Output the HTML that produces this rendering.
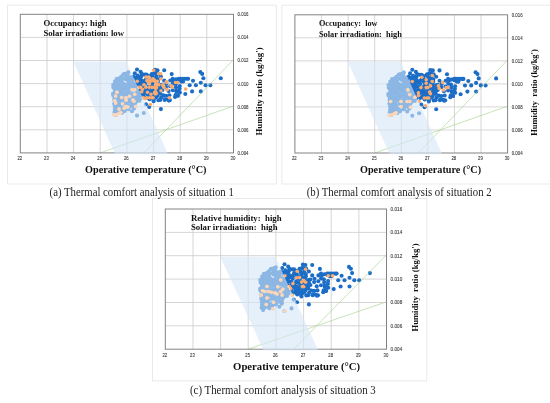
<!DOCTYPE html>
<html><head><meta charset="utf-8"><title>Thermal comfort analysis</title>
<style>html,body{margin:0;padding:0;background:#fff}svg{display:block}</style></head>
<body>
<svg width="550" height="403" viewBox="0 0 550 403">
<rect width="550" height="403" fill="#fff"/>
<rect x="7.5" y="5.2" width="268.9" height="178.8" fill="#fff" stroke="#e5e5e5" stroke-width="0.8"/>
<clipPath id="cpa"><polygon points="73.3,61.4 126.4,61.4 167.8,154.1 115.2,154.1"/></clipPath>
<path d="M47 14.3V152.9M73.6 14.3V152.9M100.2 14.3V152.9M126.9 14.3V152.9M153.6 14.3V152.9M180.2 14.3V152.9M206.8 14.3V152.9M20.3 129.8H233.5M20.3 106.7H233.5M20.3 83.6H233.5M20.3 60.5H233.5M20.3 37.4H233.5" stroke="#c8c8c8" stroke-width="0.75" fill="none"/>
<g fill="#1b6dc6">
<circle cx="134.8" cy="95.3" r="2.05"/>
<circle cx="135.4" cy="92.9" r="2.05"/>
<circle cx="121.5" cy="93.1" r="2.05"/>
<circle cx="151.7" cy="74.1" r="2.05"/>
<circle cx="116.8" cy="106.6" r="2.05"/>
<circle cx="144.8" cy="97.8" r="2.05"/>
<circle cx="113" cy="93.8" r="2.05"/>
<circle cx="121.8" cy="80.8" r="2.05"/>
<circle cx="135.4" cy="89.8" r="2.05"/>
<circle cx="138.1" cy="98.9" r="2.05"/>
<circle cx="145.2" cy="90.6" r="2.05"/>
<circle cx="128" cy="80.2" r="2.05"/>
<circle cx="115.8" cy="104.7" r="2.05"/>
<circle cx="154.4" cy="87.4" r="2.05"/>
<circle cx="122.7" cy="111.2" r="2.05"/>
<circle cx="161" cy="87.9" r="2.05"/>
<circle cx="125.7" cy="73.8" r="2.05"/>
<circle cx="118.2" cy="81" r="2.05"/>
<circle cx="115.3" cy="106.1" r="2.05"/>
<circle cx="140.1" cy="90.2" r="2.05"/>
<circle cx="148.7" cy="75.8" r="2.05"/>
<circle cx="118.1" cy="88.9" r="2.05"/>
<circle cx="152.2" cy="83.6" r="2.05"/>
<circle cx="122.8" cy="87.7" r="2.05"/>
<circle cx="128.6" cy="83.3" r="2.05"/>
<circle cx="116.8" cy="96.3" r="2.05"/>
<circle cx="142.2" cy="86.7" r="2.05"/>
<circle cx="160" cy="91.8" r="2.05"/>
<circle cx="155.4" cy="78.1" r="2.05"/>
<circle cx="124.7" cy="78.4" r="2.05"/>
<circle cx="156.1" cy="97.3" r="2.05"/>
<circle cx="125.1" cy="107.3" r="2.05"/>
<circle cx="126.9" cy="77.8" r="2.05"/>
<circle cx="154.7" cy="97.8" r="2.05"/>
<circle cx="157.9" cy="79.1" r="2.05"/>
<circle cx="125.7" cy="90.1" r="2.05"/>
<circle cx="121.1" cy="86.6" r="2.05"/>
<circle cx="118.8" cy="86.3" r="2.05"/>
<circle cx="141.3" cy="76.2" r="2.05"/>
<circle cx="143.9" cy="91.7" r="2.05"/>
<circle cx="116" cy="94.6" r="2.05"/>
<circle cx="157.8" cy="85.8" r="2.05"/>
<circle cx="140.8" cy="98.2" r="2.05"/>
<circle cx="131.6" cy="103.2" r="2.05"/>
<circle cx="134.2" cy="107.9" r="2.05"/>
<circle cx="142.2" cy="91.7" r="2.05"/>
<circle cx="147" cy="92.4" r="2.05"/>
<circle cx="158" cy="81.4" r="2.05"/>
<circle cx="127.3" cy="100.7" r="2.05"/>
<circle cx="120.7" cy="111" r="2.05"/>
<circle cx="156" cy="87.3" r="2.05"/>
<circle cx="128" cy="76" r="2.05"/>
<circle cx="126" cy="79.5" r="2.05"/>
<circle cx="134.8" cy="73.2" r="2.05"/>
<circle cx="147.5" cy="95.8" r="2.05"/>
<circle cx="119.1" cy="90.5" r="2.05"/>
<circle cx="153.5" cy="80.6" r="2.05"/>
<circle cx="114.6" cy="98.4" r="2.05"/>
<circle cx="122.2" cy="91.4" r="2.05"/>
<circle cx="121.2" cy="82.2" r="2.05"/>
<circle cx="149.9" cy="87.7" r="2.05"/>
<circle cx="131" cy="95.7" r="2.05"/>
<circle cx="135.3" cy="99.4" r="2.05"/>
<circle cx="128.9" cy="105.6" r="2.05"/>
<circle cx="119.7" cy="93.3" r="2.05"/>
<circle cx="126.7" cy="103" r="2.05"/>
<circle cx="140.1" cy="84" r="2.05"/>
<circle cx="122.6" cy="108.5" r="2.05"/>
<circle cx="138.4" cy="95.9" r="2.05"/>
<circle cx="138.9" cy="92.7" r="2.05"/>
<circle cx="132.2" cy="106.2" r="2.05"/>
<circle cx="136.7" cy="101.2" r="2.05"/>
<circle cx="139.1" cy="88.6" r="2.05"/>
<circle cx="157.1" cy="91.5" r="2.05"/>
<circle cx="121.8" cy="97.9" r="2.05"/>
<circle cx="118.7" cy="105.3" r="2.05"/>
<circle cx="128.3" cy="86" r="2.05"/>
<circle cx="117.5" cy="103.1" r="2.05"/>
<circle cx="137.7" cy="81.2" r="2.05"/>
<circle cx="132.8" cy="93.9" r="2.05"/>
<circle cx="123.9" cy="103.5" r="2.05"/>
<circle cx="157.2" cy="84.2" r="2.05"/>
<circle cx="156.4" cy="75.9" r="2.05"/>
<circle cx="148.4" cy="81.6" r="2.05"/>
<circle cx="153.7" cy="89" r="2.05"/>
<circle cx="146.4" cy="78.4" r="2.05"/>
<circle cx="119.6" cy="78.2" r="2.05"/>
<circle cx="158.4" cy="74.1" r="2.05"/>
<circle cx="128.5" cy="91" r="2.05"/>
<circle cx="133.7" cy="97.1" r="2.05"/>
<circle cx="132.4" cy="78.7" r="2.05"/>
<circle cx="152.3" cy="81.6" r="2.05"/>
<circle cx="130" cy="98.9" r="2.05"/>
<circle cx="125.1" cy="88.1" r="2.05"/>
<circle cx="124.8" cy="111" r="2.05"/>
<circle cx="114.5" cy="112.1" r="2.05"/>
<circle cx="135.7" cy="77.5" r="2.05"/>
<circle cx="130.5" cy="82.8" r="2.05"/>
<circle cx="120.1" cy="104.1" r="2.05"/>
<circle cx="116" cy="111" r="2.05"/>
<circle cx="124.4" cy="93.6" r="2.05"/>
<circle cx="148.2" cy="91.1" r="2.05"/>
<circle cx="152.9" cy="97.3" r="2.05"/>
<circle cx="125.3" cy="96.3" r="2.05"/>
<circle cx="151" cy="93.9" r="2.05"/>
<circle cx="151.3" cy="98.2" r="2.05"/>
<circle cx="125.8" cy="101" r="2.05"/>
<circle cx="117.4" cy="94.4" r="2.05"/>
<circle cx="116.6" cy="100.6" r="2.05"/>
<circle cx="143.7" cy="86.8" r="2.05"/>
<circle cx="122.8" cy="85.4" r="2.05"/>
<circle cx="154" cy="73.2" r="2.05"/>
<circle cx="122.9" cy="89.1" r="2.05"/>
<circle cx="152.6" cy="86.6" r="2.05"/>
<circle cx="133.6" cy="86.6" r="2.05"/>
<circle cx="155.8" cy="73.4" r="2.05"/>
<circle cx="140.3" cy="91.9" r="2.05"/>
<circle cx="127.2" cy="105.1" r="2.05"/>
<circle cx="122.9" cy="99.9" r="2.05"/>
<circle cx="126.4" cy="76.3" r="2.05"/>
<circle cx="148.4" cy="86.5" r="2.05"/>
<circle cx="134.1" cy="106.3" r="2.05"/>
<circle cx="128.1" cy="88" r="2.05"/>
<circle cx="130.5" cy="86.3" r="2.05"/>
<circle cx="140.3" cy="77.8" r="2.05"/>
<circle cx="156.1" cy="82.6" r="2.05"/>
<circle cx="137.9" cy="94.6" r="2.05"/>
<circle cx="116.5" cy="98.7" r="2.05"/>
<circle cx="149.4" cy="99.3" r="2.05"/>
<circle cx="157.8" cy="88.5" r="2.05"/>
<circle cx="144.1" cy="93.6" r="2.05"/>
<circle cx="152.2" cy="89" r="2.05"/>
<circle cx="131" cy="77.4" r="2.05"/>
<circle cx="133.4" cy="83.1" r="2.05"/>
<circle cx="115.2" cy="83.8" r="2.05"/>
<circle cx="149.9" cy="84" r="2.05"/>
<circle cx="152.9" cy="91.6" r="2.05"/>
<circle cx="129.3" cy="94.7" r="2.05"/>
<circle cx="136.3" cy="79.9" r="2.05"/>
<circle cx="145" cy="80.6" r="2.05"/>
<circle cx="135.8" cy="86.7" r="2.05"/>
<circle cx="147.8" cy="97.4" r="2.05"/>
<circle cx="120.1" cy="84.4" r="2.05"/>
<circle cx="155.5" cy="93.3" r="2.05"/>
<circle cx="122.7" cy="94.5" r="2.05"/>
<circle cx="120.1" cy="107.7" r="2.05"/>
<circle cx="127.7" cy="73.3" r="2.05"/>
<circle cx="135.5" cy="102.3" r="2.05"/>
<circle cx="146.4" cy="74.6" r="2.05"/>
<circle cx="153.5" cy="99.6" r="2.05"/>
<circle cx="121.2" cy="88.1" r="2.05"/>
<circle cx="141.8" cy="73.9" r="2.05"/>
<circle cx="132.2" cy="101.6" r="2.05"/>
<circle cx="113.2" cy="84.9" r="2.05"/>
<circle cx="144.6" cy="74.6" r="2.05"/>
<circle cx="139.5" cy="85.8" r="2.05"/>
<circle cx="119.3" cy="102.3" r="2.05"/>
<circle cx="122.1" cy="112.8" r="2.05"/>
<circle cx="119" cy="110.9" r="2.05"/>
<circle cx="140.2" cy="95.3" r="2.05"/>
<circle cx="145" cy="83.8" r="2.05"/>
<circle cx="149.7" cy="91.9" r="2.05"/>
<circle cx="132.6" cy="89.5" r="2.05"/>
<circle cx="157.3" cy="93.7" r="2.05"/>
<circle cx="127.4" cy="96.8" r="2.05"/>
<circle cx="149.4" cy="95.6" r="2.05"/>
<circle cx="127.2" cy="84.6" r="2.05"/>
<circle cx="132" cy="86" r="2.05"/>
<circle cx="121.8" cy="109.8" r="2.05"/>
<circle cx="158.9" cy="90.1" r="2.05"/>
<circle cx="123.4" cy="83.8" r="2.05"/>
<circle cx="122.1" cy="78" r="2.05"/>
<circle cx="141.6" cy="80.2" r="2.05"/>
<circle cx="158.4" cy="100.2" r="2.05"/>
<circle cx="126.2" cy="94.7" r="2.05"/>
<circle cx="137.1" cy="78" r="2.05"/>
<circle cx="120.9" cy="105.3" r="2.05"/>
<circle cx="123.3" cy="96.2" r="2.05"/>
<circle cx="121.2" cy="76.7" r="2.05"/>
<circle cx="137" cy="89.6" r="2.05"/>
<circle cx="157.4" cy="95.7" r="2.05"/>
<circle cx="153.1" cy="77.6" r="2.05"/>
<circle cx="120.2" cy="101.2" r="2.05"/>
<circle cx="130.4" cy="79.6" r="2.05"/>
<circle cx="134.9" cy="103.7" r="2.05"/>
<circle cx="131.8" cy="83.4" r="2.05"/>
<circle cx="139.7" cy="80.8" r="2.05"/>
<circle cx="161.1" cy="97.6" r="2.05"/>
<circle cx="132.3" cy="99.4" r="2.05"/>
<circle cx="129.4" cy="101.4" r="2.05"/>
<circle cx="129.6" cy="78.2" r="2.05"/>
<circle cx="135.5" cy="83.8" r="2.05"/>
<circle cx="125.7" cy="86.2" r="2.05"/>
<circle cx="131.9" cy="80.6" r="2.05"/>
<circle cx="119.8" cy="96.9" r="2.05"/>
<circle cx="124" cy="98.6" r="2.05"/>
<circle cx="131.4" cy="84.7" r="2.05"/>
<circle cx="124.2" cy="74" r="2.05"/>
<circle cx="133.3" cy="76.7" r="2.05"/>
<circle cx="113.4" cy="87.6" r="2.05"/>
<circle cx="115.4" cy="88.2" r="2.05"/>
<circle cx="136.9" cy="96.5" r="2.05"/>
<circle cx="135.6" cy="97.8" r="2.05"/>
<circle cx="137.5" cy="83.8" r="2.05"/>
<circle cx="160.9" cy="76.6" r="2.05"/>
<circle cx="160.5" cy="85" r="2.05"/>
<circle cx="149.5" cy="94.1" r="2.05"/>
<circle cx="124.7" cy="84.6" r="2.05"/>
<circle cx="137.8" cy="75.5" r="2.05"/>
<circle cx="115" cy="81.4" r="2.05"/>
<circle cx="124.8" cy="102.4" r="2.05"/>
<circle cx="153.5" cy="95.6" r="2.05"/>
<circle cx="152.1" cy="75.5" r="2.05"/>
<circle cx="146.5" cy="88.9" r="2.05"/>
<circle cx="118.3" cy="84.8" r="2.05"/>
<circle cx="117.6" cy="112.3" r="2.05"/>
<circle cx="113.3" cy="95.5" r="2.05"/>
<circle cx="143.4" cy="82.3" r="2.05"/>
<circle cx="116" cy="86.1" r="2.05"/>
<circle cx="127.7" cy="93.2" r="2.05"/>
<circle cx="149.2" cy="79.4" r="2.05"/>
<circle cx="139.4" cy="100.8" r="2.05"/>
<circle cx="129.7" cy="89.4" r="2.05"/>
<circle cx="137.3" cy="88.2" r="2.05"/>
<circle cx="119.7" cy="98.7" r="2.05"/>
<circle cx="118" cy="107.9" r="2.05"/>
<circle cx="140.8" cy="93.2" r="2.05"/>
<circle cx="143.5" cy="90.1" r="2.05"/>
<circle cx="115.5" cy="109.4" r="2.05"/>
<circle cx="115.9" cy="114.7" r="2.05"/>
<circle cx="141.1" cy="82.8" r="2.05"/>
<circle cx="126.5" cy="108.7" r="2.05"/>
<circle cx="129.3" cy="107.1" r="2.05"/>
<circle cx="141.7" cy="94.6" r="2.05"/>
<circle cx="130.3" cy="91" r="2.05"/>
<circle cx="115.6" cy="90.8" r="2.05"/>
<circle cx="160.5" cy="93.7" r="2.05"/>
<circle cx="147.7" cy="76.9" r="2.05"/>
<circle cx="130.5" cy="97" r="2.05"/>
<circle cx="143.3" cy="94.9" r="2.05"/>
<circle cx="176.3" cy="90.8" r="2.05"/>
<circle cx="176" cy="87.2" r="2.05"/>
<circle cx="163.4" cy="95.4" r="2.05"/>
<circle cx="170.3" cy="80.5" r="2.05"/>
<circle cx="176" cy="79.4" r="2.05"/>
<circle cx="164.2" cy="80.5" r="2.05"/>
<circle cx="166" cy="87.1" r="2.05"/>
<circle cx="170.2" cy="86.3" r="2.05"/>
<circle cx="179.6" cy="88.9" r="2.05"/>
<circle cx="169.4" cy="95.3" r="2.05"/>
<circle cx="168.6" cy="91.1" r="2.05"/>
<circle cx="166.4" cy="83.7" r="2.05"/>
<circle cx="172.9" cy="83.6" r="2.05"/>
<circle cx="172.8" cy="90.2" r="2.05"/>
<circle cx="164.9" cy="99.2" r="2.05"/>
<circle cx="173.6" cy="80.5" r="2.05"/>
<circle cx="175.7" cy="84.3" r="2.05"/>
<circle cx="162.4" cy="89.9" r="2.05"/>
<circle cx="179.8" cy="86" r="2.05"/>
<circle cx="179.9" cy="92.6" r="2.05"/>
<circle cx="179.1" cy="80.1" r="2.05"/>
<circle cx="175" cy="97" r="2.05"/>
<circle cx="169.9" cy="100.1" r="2.05"/>
<circle cx="166.2" cy="95.8" r="2.05"/>
<circle cx="162.3" cy="84.6" r="2.05"/>
<circle cx="177.8" cy="95.8" r="2.05"/>
<circle cx="114.9" cy="85.3" r="2.05"/>
<circle cx="114.4" cy="88.4" r="2.05"/>
<circle cx="114.9" cy="91.3" r="2.05"/>
<circle cx="114.4" cy="94.1" r="2.05"/>
<circle cx="114.8" cy="97.3" r="2.05"/>
<circle cx="114.3" cy="100" r="2.05"/>
<circle cx="114.1" cy="103.7" r="2.05"/>
<circle cx="114.8" cy="106.8" r="2.05"/>
<circle cx="114.9" cy="109.5" r="2.05"/>
<circle cx="114.8" cy="112.6" r="2.05"/>
<circle cx="117.1" cy="82.6" r="2.05"/>
<circle cx="116.2" cy="85.6" r="2.05"/>
<circle cx="116.4" cy="88.1" r="2.05"/>
<circle cx="117.2" cy="90.8" r="2.05"/>
<circle cx="116.7" cy="94.2" r="2.05"/>
<circle cx="117" cy="97.4" r="2.05"/>
<circle cx="117.2" cy="100.8" r="2.05"/>
<circle cx="116.8" cy="102.9" r="2.05"/>
<circle cx="116.9" cy="105.9" r="2.05"/>
<circle cx="117.3" cy="109.7" r="2.05"/>
<circle cx="116.4" cy="112" r="2.05"/>
<circle cx="220.8" cy="78.2" r="2.05"/>
<circle cx="200.3" cy="72.1" r="2.05"/>
<circle cx="202.2" cy="73.9" r="2.05"/>
<circle cx="203.4" cy="78.2" r="2.05"/>
<circle cx="200.8" cy="82.7" r="2.05"/>
<circle cx="205.5" cy="85.2" r="2.05"/>
<circle cx="210.3" cy="85.3" r="2.05"/>
<circle cx="200.8" cy="91.4" r="2.05"/>
<circle cx="195.9" cy="85.2" r="2.05"/>
<circle cx="193" cy="80.8" r="2.05"/>
<circle cx="192.1" cy="91.4" r="2.05"/>
<circle cx="189.7" cy="85.3" r="2.05"/>
<circle cx="185.3" cy="94" r="2.05"/>
<circle cx="181.5" cy="81.4" r="2.05"/>
<circle cx="183.1" cy="81.4" r="2.05"/>
<circle cx="178.8" cy="78.7" r="2.05"/>
<circle cx="180.6" cy="78.7" r="2.05"/>
<circle cx="182.6" cy="78.7" r="2.05"/>
<circle cx="184.8" cy="78.7" r="2.05"/>
<circle cx="187" cy="78.7" r="2.05"/>
<circle cx="188.1" cy="78.7" r="2.05"/>
<circle cx="171.7" cy="74.1" r="2.05"/>
<circle cx="164.2" cy="70.2" r="2.05"/>
<circle cx="157.5" cy="70.2" r="2.05"/>
<circle cx="172.8" cy="78.7" r="2.05"/>
<circle cx="160.9" cy="109.1" r="2.05"/>
<circle cx="167.8" cy="99.6" r="2.05"/>
<circle cx="164.6" cy="100" r="2.05"/>
<circle cx="160.2" cy="100" r="2.05"/>
<circle cx="168.9" cy="100.6" r="2.05"/>
<circle cx="176.6" cy="91.8" r="2.05"/>
<circle cx="178.2" cy="91.8" r="2.05"/>
<circle cx="175.5" cy="95.1" r="2.05"/>
<circle cx="177.7" cy="95.6" r="2.05"/>
<circle cx="137" cy="115.6" r="2.05"/>
<circle cx="143.8" cy="113" r="2.05"/>
<circle cx="134.1" cy="108.4" r="2.05"/>
<circle cx="131.9" cy="111.3" r="2.05"/>
<circle cx="128.6" cy="109.1" r="2.05"/>
<circle cx="137" cy="69.5" r="2.05"/>
<circle cx="140.6" cy="71.7" r="2.05"/>
<circle cx="155" cy="69.8" r="2.05"/>
<circle cx="116.8" cy="78.9" r="2.05"/>
<circle cx="120.4" cy="78.2" r="2.05"/>
<circle cx="123.3" cy="74.5" r="2.05"/>
<circle cx="128.3" cy="72.4" r="2.05"/>
<circle cx="149.2" cy="107" r="2.05"/>
<circle cx="146" cy="104.3" r="2.05"/>
<circle cx="153.6" cy="101.2" r="2.05"/>
</g>
<g fill="#f9ab72"><circle cx="137.3" cy="81.3" r="1.8"/><circle cx="139" cy="87.4" r="1.8"/><circle cx="140.8" cy="87.4" r="1.8"/><circle cx="141.7" cy="91.8" r="1.8"/><circle cx="142.5" cy="89.3" r="1.8"/><circle cx="143.4" cy="97.8" r="1.8"/><circle cx="145.1" cy="98.7" r="1.8"/><circle cx="146" cy="77" r="1.8"/><circle cx="148.6" cy="77" r="1.8"/><circle cx="146.9" cy="80.5" r="1.8"/><circle cx="150.3" cy="81.3" r="1.8"/><circle cx="149.5" cy="84" r="1.8"/><circle cx="152" cy="87.4" r="1.8"/><circle cx="154.7" cy="87.4" r="1.8"/><circle cx="156.4" cy="87.4" r="1.8"/><circle cx="155.6" cy="91.8" r="1.8"/><circle cx="156.4" cy="93.5" r="1.8"/><circle cx="152" cy="97.8" r="1.8"/><circle cx="149.5" cy="97.8" r="1.8"/><circle cx="150.3" cy="104.5" r="1.8"/><circle cx="153.6" cy="70.2" r="1.8"/><circle cx="158.6" cy="73.8" r="1.8"/><circle cx="160.7" cy="73.8" r="1.8"/><circle cx="155.6" cy="81.3" r="1.8"/><circle cx="157.3" cy="81.3" r="1.8"/><circle cx="160.8" cy="78.7" r="1.8"/><circle cx="166.8" cy="82.5" r="1.8"/><circle cx="166.8" cy="89.6" r="1.8"/><circle cx="169.5" cy="97.8" r="1.8"/><circle cx="171.1" cy="85.8" r="1.8"/><circle cx="172.2" cy="87.2" r="1.8"/><circle cx="175.5" cy="82.5" r="1.8"/><circle cx="177.7" cy="82.5" r="1.8"/><circle cx="185.7" cy="89.1" r="1.8"/><circle cx="162.9" cy="85.3" r="1.8"/><circle cx="163.5" cy="86.9" r="1.8"/><circle cx="154.2" cy="80.9" r="1.8"/><circle cx="155.8" cy="82" r="1.8"/><circle cx="156.4" cy="84.2" r="1.8"/><circle cx="155.3" cy="86.3" r="1.8"/><circle cx="155.8" cy="88.5" r="1.8"/><circle cx="154.7" cy="92.3" r="1.8"/><circle cx="155.3" cy="94" r="1.8"/><circle cx="153.1" cy="97.8" r="1.8"/><circle cx="147.5" cy="92.3" r="1.8"/><circle cx="144" cy="84.8" r="1.8"/><circle cx="151" cy="94.3" r="1.8"/><circle cx="159" cy="84.8" r="1.8"/><circle cx="161" cy="90.8" r="1.8"/><circle cx="153" cy="78.8" r="1.8"/><circle cx="149.2" cy="78.3" r="1.8"/><circle cx="148.4" cy="81.6" r="1.8"/><circle cx="151.6" cy="80.8" r="1.8"/><circle cx="145.9" cy="87.3" r="1.8"/><circle cx="149.2" cy="87.3" r="1.8"/><circle cx="154.1" cy="79.9" r="1.8"/><circle cx="157.4" cy="84.8" r="1.8"/><circle cx="154.9" cy="93" r="1.8"/><circle cx="146.7" cy="97.9" r="1.8"/><circle cx="163.1" cy="84.8" r="1.8"/><circle cx="163.9" cy="87.3" r="1.8"/><circle cx="167.2" cy="89.8" r="1.8"/><circle cx="166.4" cy="81.6" r="1.8"/><circle cx="171.3" cy="85.7" r="1.8"/><circle cx="115.6" cy="96.1" r="1.8"/><circle cx="114.8" cy="100.8" r="1.8"/><circle cx="115.6" cy="103.1" r="1.8"/><circle cx="121.7" cy="97.5" r="1.8"/><circle cx="126" cy="97.8" r="1.8"/><circle cx="126" cy="100.3" r="1.8"/><circle cx="133" cy="100.1" r="1.8"/><circle cx="133.9" cy="101.3" r="1.8"/><circle cx="132.1" cy="89.7" r="1.8"/><circle cx="134.7" cy="89.7" r="1.8"/><circle cx="134.7" cy="94.3" r="1.8"/><circle cx="126" cy="106.5" r="1.8"/><circle cx="127.8" cy="107" r="1.8"/><circle cx="124.3" cy="108.3" r="1.8"/><circle cx="119" cy="109.1" r="1.8"/><circle cx="135.6" cy="106.5" r="1.8"/><circle cx="113.9" cy="114.8" r="1.8"/><circle cx="116.5" cy="114.8" r="1.8"/><circle cx="119" cy="113.5" r="1.8"/><circle cx="120.8" cy="112.6" r="1.8"/><circle cx="117" cy="92.3" r="1.8"/><circle cx="122.5" cy="103.8" r="1.8"/><circle cx="129.5" cy="96.3" r="1.8"/></g>
<path d="M100.2 152.9L233.5 106M144 152.9L233.5 59.6" stroke="#a9d491" stroke-width="0.65" fill="none"/>
<rect x="20.3" y="14.3" width="213.2" height="138.6" fill="none" stroke="#838383" stroke-width="1"/>
<polygon points="73.3,61.4 126.4,61.4 167.8,154.1 115.2,154.1" fill="#d4e6f7" fill-opacity="0.61"/>
<g fill="#fbd6b9" clip-path="url(#cpa)"><circle cx="137.3" cy="81.3" r="1.8"/><circle cx="139" cy="87.4" r="1.8"/><circle cx="140.8" cy="87.4" r="1.8"/><circle cx="141.7" cy="91.8" r="1.8"/><circle cx="142.5" cy="89.3" r="1.8"/><circle cx="143.4" cy="97.8" r="1.8"/><circle cx="145.1" cy="98.7" r="1.8"/><circle cx="146" cy="77" r="1.8"/><circle cx="148.6" cy="77" r="1.8"/><circle cx="146.9" cy="80.5" r="1.8"/><circle cx="150.3" cy="81.3" r="1.8"/><circle cx="149.5" cy="84" r="1.8"/><circle cx="149.5" cy="97.8" r="1.8"/><circle cx="150.3" cy="104.5" r="1.8"/><circle cx="147.5" cy="92.3" r="1.8"/><circle cx="144" cy="84.8" r="1.8"/><circle cx="151" cy="94.3" r="1.8"/><circle cx="149.2" cy="78.3" r="1.8"/><circle cx="148.4" cy="81.6" r="1.8"/><circle cx="151.6" cy="80.8" r="1.8"/><circle cx="145.9" cy="87.3" r="1.8"/><circle cx="149.2" cy="87.3" r="1.8"/><circle cx="146.7" cy="97.9" r="1.8"/><circle cx="115.6" cy="96.1" r="1.8"/><circle cx="114.8" cy="100.8" r="1.8"/><circle cx="115.6" cy="103.1" r="1.8"/><circle cx="121.7" cy="97.5" r="1.8"/><circle cx="126" cy="97.8" r="1.8"/><circle cx="126" cy="100.3" r="1.8"/><circle cx="133" cy="100.1" r="1.8"/><circle cx="133.9" cy="101.3" r="1.8"/><circle cx="132.1" cy="89.7" r="1.8"/><circle cx="134.7" cy="89.7" r="1.8"/><circle cx="134.7" cy="94.3" r="1.8"/><circle cx="126" cy="106.5" r="1.8"/><circle cx="127.8" cy="107" r="1.8"/><circle cx="124.3" cy="108.3" r="1.8"/><circle cx="119" cy="109.1" r="1.8"/><circle cx="135.6" cy="106.5" r="1.8"/><circle cx="113.9" cy="114.8" r="1.8"/><circle cx="116.5" cy="114.8" r="1.8"/><circle cx="119" cy="113.5" r="1.8"/><circle cx="120.8" cy="112.6" r="1.8"/><circle cx="117" cy="92.3" r="1.8"/><circle cx="122.5" cy="103.8" r="1.8"/><circle cx="129.5" cy="96.3" r="1.8"/></g>
<g font-family="Liberation Sans, Arial, sans-serif" font-size="5.2" fill="#3a3a3a" stroke="#3a3a3a" stroke-width="0.1">
<text transform="translate(17.4 160.2) scale(0.82 1)">22</text>
<text transform="translate(44.1 160.2) scale(0.82 1)">23</text>
<text transform="translate(70.7 160.2) scale(0.82 1)">24</text>
<text transform="translate(97.3 160.2) scale(0.82 1)">25</text>
<text transform="translate(124 160.2) scale(0.82 1)">26</text>
<text transform="translate(150.7 160.2) scale(0.82 1)">27</text>
<text transform="translate(177.3 160.2) scale(0.82 1)">28</text>
<text transform="translate(203.9 160.2) scale(0.82 1)">29</text>
<text transform="translate(230.6 160.2) scale(0.82 1)">30</text>
<text transform="translate(237.6 154.8) scale(0.845 1)">0.004</text>
<text transform="translate(237.6 131.7) scale(0.845 1)">0.006</text>
<text transform="translate(237.6 108.6) scale(0.845 1)">0.008</text>
<text transform="translate(237.6 85.5) scale(0.845 1)">0.010</text>
<text transform="translate(237.6 62.4) scale(0.845 1)">0.012</text>
<text transform="translate(237.6 39.3) scale(0.845 1)">0.014</text>
<text transform="translate(237.6 16.2) scale(0.845 1)">0.016</text>
</g>
<rect x="281.9" y="5.2" width="269.1" height="178.8" fill="#fff" stroke="#e5e5e5" stroke-width="0.8"/>
<clipPath id="cpb"><polygon points="347.8,61.8 400.7,61.8 442.1,154.2 389.6,154.2"/></clipPath>
<path d="M321.5 14.8V153M348.1 14.8V153M374.7 14.8V153M401.2 14.8V153M427.8 14.8V153M454.4 14.8V153M481 14.8V153M294.9 130H507.6M294.9 106.9H507.6M294.9 83.9H507.6M294.9 60.9H507.6M294.9 37.8H507.6" stroke="#c8c8c8" stroke-width="0.75" fill="none"/>
<g fill="#1b6dc6">
<circle cx="410.1" cy="95.5" r="2.05"/>
<circle cx="410.7" cy="93.1" r="2.05"/>
<circle cx="396.8" cy="93.3" r="2.05"/>
<circle cx="427" cy="74.3" r="2.05"/>
<circle cx="392.1" cy="106.8" r="2.05"/>
<circle cx="420.1" cy="98" r="2.05"/>
<circle cx="388.3" cy="94" r="2.05"/>
<circle cx="397.1" cy="81" r="2.05"/>
<circle cx="410.7" cy="90" r="2.05"/>
<circle cx="413.4" cy="99.1" r="2.05"/>
<circle cx="420.5" cy="90.8" r="2.05"/>
<circle cx="403.3" cy="80.4" r="2.05"/>
<circle cx="391.1" cy="104.9" r="2.05"/>
<circle cx="429.7" cy="87.6" r="2.05"/>
<circle cx="398" cy="111.4" r="2.05"/>
<circle cx="436.3" cy="88.1" r="2.05"/>
<circle cx="401" cy="74" r="2.05"/>
<circle cx="393.5" cy="81.2" r="2.05"/>
<circle cx="390.6" cy="106.3" r="2.05"/>
<circle cx="415.4" cy="90.4" r="2.05"/>
<circle cx="424" cy="76" r="2.05"/>
<circle cx="393.4" cy="89.1" r="2.05"/>
<circle cx="427.5" cy="83.8" r="2.05"/>
<circle cx="398.1" cy="87.9" r="2.05"/>
<circle cx="403.9" cy="83.5" r="2.05"/>
<circle cx="392.1" cy="96.5" r="2.05"/>
<circle cx="417.5" cy="86.9" r="2.05"/>
<circle cx="435.3" cy="92" r="2.05"/>
<circle cx="430.7" cy="78.3" r="2.05"/>
<circle cx="400" cy="78.6" r="2.05"/>
<circle cx="431.4" cy="97.5" r="2.05"/>
<circle cx="400.4" cy="107.5" r="2.05"/>
<circle cx="402.2" cy="78" r="2.05"/>
<circle cx="430" cy="98" r="2.05"/>
<circle cx="433.2" cy="79.3" r="2.05"/>
<circle cx="401" cy="90.3" r="2.05"/>
<circle cx="396.4" cy="86.8" r="2.05"/>
<circle cx="394.1" cy="86.5" r="2.05"/>
<circle cx="416.6" cy="76.4" r="2.05"/>
<circle cx="419.2" cy="91.9" r="2.05"/>
<circle cx="391.3" cy="94.8" r="2.05"/>
<circle cx="433.1" cy="86" r="2.05"/>
<circle cx="416.1" cy="98.4" r="2.05"/>
<circle cx="406.9" cy="103.4" r="2.05"/>
<circle cx="409.5" cy="108.1" r="2.05"/>
<circle cx="417.5" cy="91.9" r="2.05"/>
<circle cx="422.3" cy="92.6" r="2.05"/>
<circle cx="433.3" cy="81.6" r="2.05"/>
<circle cx="402.6" cy="100.9" r="2.05"/>
<circle cx="396" cy="111.2" r="2.05"/>
<circle cx="431.3" cy="87.5" r="2.05"/>
<circle cx="403.3" cy="76.2" r="2.05"/>
<circle cx="401.3" cy="79.7" r="2.05"/>
<circle cx="410.1" cy="73.4" r="2.05"/>
<circle cx="422.8" cy="96" r="2.05"/>
<circle cx="394.4" cy="90.7" r="2.05"/>
<circle cx="428.8" cy="80.8" r="2.05"/>
<circle cx="389.9" cy="98.6" r="2.05"/>
<circle cx="397.5" cy="91.6" r="2.05"/>
<circle cx="396.5" cy="82.4" r="2.05"/>
<circle cx="425.2" cy="87.9" r="2.05"/>
<circle cx="406.3" cy="95.9" r="2.05"/>
<circle cx="410.6" cy="99.6" r="2.05"/>
<circle cx="404.2" cy="105.8" r="2.05"/>
<circle cx="395" cy="93.5" r="2.05"/>
<circle cx="402" cy="103.2" r="2.05"/>
<circle cx="415.4" cy="84.2" r="2.05"/>
<circle cx="397.9" cy="108.7" r="2.05"/>
<circle cx="413.7" cy="96.1" r="2.05"/>
<circle cx="414.2" cy="92.9" r="2.05"/>
<circle cx="407.5" cy="106.4" r="2.05"/>
<circle cx="412" cy="101.4" r="2.05"/>
<circle cx="414.4" cy="88.8" r="2.05"/>
<circle cx="432.4" cy="91.7" r="2.05"/>
<circle cx="397.1" cy="98.1" r="2.05"/>
<circle cx="394" cy="105.5" r="2.05"/>
<circle cx="403.6" cy="86.2" r="2.05"/>
<circle cx="392.8" cy="103.3" r="2.05"/>
<circle cx="413" cy="81.4" r="2.05"/>
<circle cx="408.1" cy="94.1" r="2.05"/>
<circle cx="399.2" cy="103.7" r="2.05"/>
<circle cx="432.5" cy="84.4" r="2.05"/>
<circle cx="431.7" cy="76.1" r="2.05"/>
<circle cx="423.7" cy="81.8" r="2.05"/>
<circle cx="429" cy="89.2" r="2.05"/>
<circle cx="421.7" cy="78.6" r="2.05"/>
<circle cx="394.9" cy="78.4" r="2.05"/>
<circle cx="433.7" cy="74.3" r="2.05"/>
<circle cx="403.8" cy="91.2" r="2.05"/>
<circle cx="409" cy="97.3" r="2.05"/>
<circle cx="407.7" cy="78.9" r="2.05"/>
<circle cx="427.6" cy="81.8" r="2.05"/>
<circle cx="405.3" cy="99.1" r="2.05"/>
<circle cx="400.4" cy="88.3" r="2.05"/>
<circle cx="400.1" cy="111.2" r="2.05"/>
<circle cx="389.8" cy="112.3" r="2.05"/>
<circle cx="411" cy="77.7" r="2.05"/>
<circle cx="405.8" cy="83" r="2.05"/>
<circle cx="395.4" cy="104.3" r="2.05"/>
<circle cx="391.3" cy="111.2" r="2.05"/>
<circle cx="399.7" cy="93.8" r="2.05"/>
<circle cx="423.5" cy="91.3" r="2.05"/>
<circle cx="428.2" cy="97.5" r="2.05"/>
<circle cx="400.6" cy="96.5" r="2.05"/>
<circle cx="426.3" cy="94.1" r="2.05"/>
<circle cx="426.6" cy="98.4" r="2.05"/>
<circle cx="401.1" cy="101.2" r="2.05"/>
<circle cx="392.7" cy="94.6" r="2.05"/>
<circle cx="391.9" cy="100.8" r="2.05"/>
<circle cx="419" cy="87" r="2.05"/>
<circle cx="398.1" cy="85.6" r="2.05"/>
<circle cx="429.3" cy="73.4" r="2.05"/>
<circle cx="398.2" cy="89.3" r="2.05"/>
<circle cx="427.9" cy="86.8" r="2.05"/>
<circle cx="408.9" cy="86.8" r="2.05"/>
<circle cx="431.1" cy="73.6" r="2.05"/>
<circle cx="415.6" cy="92.1" r="2.05"/>
<circle cx="402.5" cy="105.3" r="2.05"/>
<circle cx="398.2" cy="100.1" r="2.05"/>
<circle cx="401.7" cy="76.5" r="2.05"/>
<circle cx="423.7" cy="86.7" r="2.05"/>
<circle cx="409.4" cy="106.5" r="2.05"/>
<circle cx="403.4" cy="88.2" r="2.05"/>
<circle cx="405.8" cy="86.5" r="2.05"/>
<circle cx="415.6" cy="78" r="2.05"/>
<circle cx="431.4" cy="82.8" r="2.05"/>
<circle cx="413.2" cy="94.8" r="2.05"/>
<circle cx="391.8" cy="98.9" r="2.05"/>
<circle cx="424.7" cy="99.5" r="2.05"/>
<circle cx="433.1" cy="88.7" r="2.05"/>
<circle cx="419.4" cy="93.8" r="2.05"/>
<circle cx="427.5" cy="89.2" r="2.05"/>
<circle cx="406.3" cy="77.6" r="2.05"/>
<circle cx="408.7" cy="83.3" r="2.05"/>
<circle cx="390.5" cy="84" r="2.05"/>
<circle cx="425.2" cy="84.2" r="2.05"/>
<circle cx="428.2" cy="91.8" r="2.05"/>
<circle cx="404.6" cy="94.9" r="2.05"/>
<circle cx="411.6" cy="80.1" r="2.05"/>
<circle cx="420.3" cy="80.8" r="2.05"/>
<circle cx="411.1" cy="86.9" r="2.05"/>
<circle cx="423.1" cy="97.6" r="2.05"/>
<circle cx="395.4" cy="84.6" r="2.05"/>
<circle cx="430.8" cy="93.5" r="2.05"/>
<circle cx="398" cy="94.7" r="2.05"/>
<circle cx="395.4" cy="107.9" r="2.05"/>
<circle cx="403" cy="73.5" r="2.05"/>
<circle cx="410.8" cy="102.5" r="2.05"/>
<circle cx="421.7" cy="74.8" r="2.05"/>
<circle cx="428.8" cy="99.8" r="2.05"/>
<circle cx="396.5" cy="88.3" r="2.05"/>
<circle cx="417.1" cy="74.1" r="2.05"/>
<circle cx="407.5" cy="101.8" r="2.05"/>
<circle cx="388.5" cy="85.1" r="2.05"/>
<circle cx="419.9" cy="74.8" r="2.05"/>
<circle cx="414.8" cy="86" r="2.05"/>
<circle cx="394.6" cy="102.5" r="2.05"/>
<circle cx="397.4" cy="113" r="2.05"/>
<circle cx="394.3" cy="111.1" r="2.05"/>
<circle cx="415.5" cy="95.5" r="2.05"/>
<circle cx="420.3" cy="84" r="2.05"/>
<circle cx="425" cy="92.1" r="2.05"/>
<circle cx="407.9" cy="89.7" r="2.05"/>
<circle cx="432.6" cy="93.9" r="2.05"/>
<circle cx="402.7" cy="97" r="2.05"/>
<circle cx="424.7" cy="95.8" r="2.05"/>
<circle cx="402.5" cy="84.8" r="2.05"/>
<circle cx="407.3" cy="86.2" r="2.05"/>
<circle cx="397.1" cy="110" r="2.05"/>
<circle cx="434.2" cy="90.3" r="2.05"/>
<circle cx="398.7" cy="84" r="2.05"/>
<circle cx="397.4" cy="78.2" r="2.05"/>
<circle cx="416.9" cy="80.4" r="2.05"/>
<circle cx="433.7" cy="100.4" r="2.05"/>
<circle cx="401.5" cy="94.9" r="2.05"/>
<circle cx="412.4" cy="78.2" r="2.05"/>
<circle cx="396.2" cy="105.5" r="2.05"/>
<circle cx="398.6" cy="96.4" r="2.05"/>
<circle cx="396.5" cy="76.9" r="2.05"/>
<circle cx="412.3" cy="89.8" r="2.05"/>
<circle cx="432.7" cy="95.9" r="2.05"/>
<circle cx="428.4" cy="77.8" r="2.05"/>
<circle cx="395.5" cy="101.4" r="2.05"/>
<circle cx="405.7" cy="79.8" r="2.05"/>
<circle cx="410.2" cy="103.9" r="2.05"/>
<circle cx="407.1" cy="83.6" r="2.05"/>
<circle cx="415" cy="81" r="2.05"/>
<circle cx="436.4" cy="97.8" r="2.05"/>
<circle cx="407.6" cy="99.6" r="2.05"/>
<circle cx="404.7" cy="101.6" r="2.05"/>
<circle cx="404.9" cy="78.4" r="2.05"/>
<circle cx="410.8" cy="84" r="2.05"/>
<circle cx="401" cy="86.4" r="2.05"/>
<circle cx="407.2" cy="80.8" r="2.05"/>
<circle cx="395.1" cy="97.1" r="2.05"/>
<circle cx="399.3" cy="98.8" r="2.05"/>
<circle cx="406.7" cy="84.9" r="2.05"/>
<circle cx="399.5" cy="74.2" r="2.05"/>
<circle cx="408.6" cy="76.9" r="2.05"/>
<circle cx="388.7" cy="87.8" r="2.05"/>
<circle cx="390.7" cy="88.4" r="2.05"/>
<circle cx="412.2" cy="96.7" r="2.05"/>
<circle cx="410.9" cy="98" r="2.05"/>
<circle cx="412.8" cy="84" r="2.05"/>
<circle cx="436.2" cy="76.8" r="2.05"/>
<circle cx="435.8" cy="85.2" r="2.05"/>
<circle cx="424.8" cy="94.3" r="2.05"/>
<circle cx="400" cy="84.8" r="2.05"/>
<circle cx="413.1" cy="75.7" r="2.05"/>
<circle cx="390.3" cy="81.6" r="2.05"/>
<circle cx="400.1" cy="102.6" r="2.05"/>
<circle cx="428.8" cy="95.8" r="2.05"/>
<circle cx="427.4" cy="75.7" r="2.05"/>
<circle cx="421.8" cy="89.1" r="2.05"/>
<circle cx="393.6" cy="85" r="2.05"/>
<circle cx="392.9" cy="112.5" r="2.05"/>
<circle cx="388.6" cy="95.7" r="2.05"/>
<circle cx="418.7" cy="82.5" r="2.05"/>
<circle cx="391.3" cy="86.3" r="2.05"/>
<circle cx="403" cy="93.4" r="2.05"/>
<circle cx="424.5" cy="79.6" r="2.05"/>
<circle cx="414.7" cy="101" r="2.05"/>
<circle cx="405" cy="89.6" r="2.05"/>
<circle cx="412.6" cy="88.4" r="2.05"/>
<circle cx="395" cy="98.9" r="2.05"/>
<circle cx="393.3" cy="108.1" r="2.05"/>
<circle cx="416.1" cy="93.4" r="2.05"/>
<circle cx="418.8" cy="90.3" r="2.05"/>
<circle cx="390.8" cy="109.6" r="2.05"/>
<circle cx="391.2" cy="114.9" r="2.05"/>
<circle cx="416.4" cy="83" r="2.05"/>
<circle cx="401.8" cy="108.9" r="2.05"/>
<circle cx="404.6" cy="107.3" r="2.05"/>
<circle cx="417" cy="94.8" r="2.05"/>
<circle cx="405.6" cy="91.2" r="2.05"/>
<circle cx="390.9" cy="91" r="2.05"/>
<circle cx="435.8" cy="93.9" r="2.05"/>
<circle cx="423" cy="77.1" r="2.05"/>
<circle cx="405.8" cy="97.2" r="2.05"/>
<circle cx="418.6" cy="95.1" r="2.05"/>
<circle cx="451.6" cy="91" r="2.05"/>
<circle cx="451.3" cy="87.4" r="2.05"/>
<circle cx="438.7" cy="95.6" r="2.05"/>
<circle cx="445.6" cy="80.7" r="2.05"/>
<circle cx="451.3" cy="79.6" r="2.05"/>
<circle cx="439.5" cy="80.7" r="2.05"/>
<circle cx="441.3" cy="87.3" r="2.05"/>
<circle cx="445.5" cy="86.5" r="2.05"/>
<circle cx="454.9" cy="89.1" r="2.05"/>
<circle cx="444.7" cy="95.5" r="2.05"/>
<circle cx="443.9" cy="91.3" r="2.05"/>
<circle cx="441.7" cy="83.9" r="2.05"/>
<circle cx="448.2" cy="83.8" r="2.05"/>
<circle cx="448.1" cy="90.4" r="2.05"/>
<circle cx="440.2" cy="99.4" r="2.05"/>
<circle cx="448.9" cy="80.7" r="2.05"/>
<circle cx="451" cy="84.5" r="2.05"/>
<circle cx="437.7" cy="90.1" r="2.05"/>
<circle cx="455.1" cy="86.2" r="2.05"/>
<circle cx="455.2" cy="92.8" r="2.05"/>
<circle cx="454.4" cy="80.3" r="2.05"/>
<circle cx="450.3" cy="97.2" r="2.05"/>
<circle cx="445.2" cy="100.3" r="2.05"/>
<circle cx="441.5" cy="96" r="2.05"/>
<circle cx="437.6" cy="84.8" r="2.05"/>
<circle cx="453.1" cy="96" r="2.05"/>
<circle cx="390.2" cy="85.5" r="2.05"/>
<circle cx="389.7" cy="88.6" r="2.05"/>
<circle cx="390.2" cy="91.5" r="2.05"/>
<circle cx="389.7" cy="94.3" r="2.05"/>
<circle cx="390.1" cy="97.5" r="2.05"/>
<circle cx="389.6" cy="100.2" r="2.05"/>
<circle cx="389.4" cy="103.8" r="2.05"/>
<circle cx="390.1" cy="107" r="2.05"/>
<circle cx="390.2" cy="109.7" r="2.05"/>
<circle cx="390.1" cy="112.7" r="2.05"/>
<circle cx="392.4" cy="82.8" r="2.05"/>
<circle cx="391.5" cy="85.8" r="2.05"/>
<circle cx="391.7" cy="88.2" r="2.05"/>
<circle cx="392.5" cy="91" r="2.05"/>
<circle cx="392" cy="94.3" r="2.05"/>
<circle cx="392.3" cy="97.6" r="2.05"/>
<circle cx="392.5" cy="100.9" r="2.05"/>
<circle cx="392.1" cy="103.1" r="2.05"/>
<circle cx="392.2" cy="106.1" r="2.05"/>
<circle cx="392.6" cy="109.9" r="2.05"/>
<circle cx="391.7" cy="112.2" r="2.05"/>
<circle cx="496.1" cy="78.4" r="2.05"/>
<circle cx="475.6" cy="72.3" r="2.05"/>
<circle cx="477.5" cy="74.1" r="2.05"/>
<circle cx="478.7" cy="78.4" r="2.05"/>
<circle cx="476.1" cy="82.9" r="2.05"/>
<circle cx="480.8" cy="85.4" r="2.05"/>
<circle cx="485.6" cy="85.5" r="2.05"/>
<circle cx="476.1" cy="91.6" r="2.05"/>
<circle cx="471.2" cy="85.4" r="2.05"/>
<circle cx="468.3" cy="81" r="2.05"/>
<circle cx="467.4" cy="91.6" r="2.05"/>
<circle cx="465" cy="85.5" r="2.05"/>
<circle cx="460.6" cy="94.2" r="2.05"/>
<circle cx="456.8" cy="81.6" r="2.05"/>
<circle cx="458.4" cy="81.6" r="2.05"/>
<circle cx="454.1" cy="78.9" r="2.05"/>
<circle cx="455.9" cy="78.9" r="2.05"/>
<circle cx="457.9" cy="78.9" r="2.05"/>
<circle cx="460.1" cy="78.9" r="2.05"/>
<circle cx="462.3" cy="78.9" r="2.05"/>
<circle cx="463.4" cy="78.9" r="2.05"/>
<circle cx="447" cy="74.3" r="2.05"/>
<circle cx="439.5" cy="70.4" r="2.05"/>
<circle cx="432.8" cy="70.4" r="2.05"/>
<circle cx="448.1" cy="78.9" r="2.05"/>
<circle cx="436.2" cy="109.3" r="2.05"/>
<circle cx="443.1" cy="99.8" r="2.05"/>
<circle cx="439.9" cy="100.2" r="2.05"/>
<circle cx="435.5" cy="100.2" r="2.05"/>
<circle cx="444.2" cy="100.8" r="2.05"/>
<circle cx="451.9" cy="92" r="2.05"/>
<circle cx="453.5" cy="92" r="2.05"/>
<circle cx="450.8" cy="95.3" r="2.05"/>
<circle cx="453" cy="95.8" r="2.05"/>
<circle cx="412.3" cy="115.8" r="2.05"/>
<circle cx="419.1" cy="113.2" r="2.05"/>
<circle cx="409.4" cy="108.6" r="2.05"/>
<circle cx="407.2" cy="111.5" r="2.05"/>
<circle cx="403.9" cy="109.3" r="2.05"/>
<circle cx="412.3" cy="69.7" r="2.05"/>
<circle cx="415.9" cy="71.9" r="2.05"/>
<circle cx="430.3" cy="70" r="2.05"/>
<circle cx="392.1" cy="79.1" r="2.05"/>
<circle cx="395.7" cy="78.4" r="2.05"/>
<circle cx="398.6" cy="74.7" r="2.05"/>
<circle cx="403.6" cy="72.6" r="2.05"/>
<circle cx="424.5" cy="107.2" r="2.05"/>
<circle cx="421.3" cy="104.5" r="2.05"/>
<circle cx="428.9" cy="101.4" r="2.05"/>
</g>
<g fill="#f9ab72"><circle cx="412.3" cy="81.5" r="1.8"/><circle cx="421.8" cy="77.2" r="1.8"/><circle cx="426.2" cy="79.8" r="1.8"/><circle cx="426.2" cy="83.3" r="1.8"/><circle cx="432.3" cy="75.5" r="1.8"/><circle cx="432.3" cy="81.5" r="1.8"/><circle cx="421" cy="87.6" r="1.8"/><circle cx="426.2" cy="87.6" r="1.8"/><circle cx="427.9" cy="87.6" r="1.8"/><circle cx="430.5" cy="85.9" r="1.8"/><circle cx="438.3" cy="85.9" r="1.8"/><circle cx="439.2" cy="88.5" r="1.8"/><circle cx="442.7" cy="82.4" r="1.8"/><circle cx="443.5" cy="90.2" r="1.8"/><circle cx="446.1" cy="87.6" r="1.8"/><circle cx="447.9" cy="87.6" r="1.8"/><circle cx="429.6" cy="92" r="1.8"/><circle cx="430.5" cy="93.7" r="1.8"/><circle cx="418.4" cy="92.8" r="1.8"/><circle cx="418.4" cy="95.5" r="1.8"/><circle cx="414.9" cy="97.2" r="1.8"/><circle cx="419.2" cy="101.5" r="1.8"/><circle cx="424.4" cy="98" r="1.8"/><circle cx="427" cy="98" r="1.8"/><circle cx="428.8" cy="98" r="1.8"/><circle cx="425.3" cy="105.8" r="1.8"/><circle cx="407.9" cy="89.9" r="1.8"/><circle cx="409.7" cy="94.6" r="1.8"/><circle cx="390.6" cy="101.5" r="1.8"/><circle cx="401" cy="101.5" r="1.8"/><circle cx="407.1" cy="101.5" r="1.8"/><circle cx="409.7" cy="101.5" r="1.8"/><circle cx="401" cy="106.7" r="1.8"/><circle cx="410.5" cy="107.2" r="1.8"/><circle cx="389.2" cy="115" r="1.8"/><circle cx="391.8" cy="115" r="1.8"/><circle cx="394.3" cy="113.7" r="1.8"/><circle cx="396.1" cy="112.8" r="1.8"/></g>
<path d="M374.7 153L507.6 106.2M418.3 153L507.6 59.9" stroke="#a9d491" stroke-width="0.65" fill="none"/>
<rect x="294.9" y="14.8" width="212.7" height="138.2" fill="none" stroke="#838383" stroke-width="1"/>
<polygon points="347.8,61.8 400.7,61.8 442.1,154.2 389.6,154.2" fill="#d4e6f7" fill-opacity="0.61"/>
<g fill="#fbd6b9" clip-path="url(#cpb)"><circle cx="412.3" cy="81.5" r="1.8"/><circle cx="421.8" cy="77.2" r="1.8"/><circle cx="426.2" cy="79.8" r="1.8"/><circle cx="426.2" cy="83.3" r="1.8"/><circle cx="421" cy="87.6" r="1.8"/><circle cx="426.2" cy="87.6" r="1.8"/><circle cx="418.4" cy="92.8" r="1.8"/><circle cx="418.4" cy="95.5" r="1.8"/><circle cx="414.9" cy="97.2" r="1.8"/><circle cx="419.2" cy="101.5" r="1.8"/><circle cx="424.4" cy="98" r="1.8"/><circle cx="427" cy="98" r="1.8"/><circle cx="425.3" cy="105.8" r="1.8"/><circle cx="407.9" cy="89.9" r="1.8"/><circle cx="409.7" cy="94.6" r="1.8"/><circle cx="390.6" cy="101.5" r="1.8"/><circle cx="401" cy="101.5" r="1.8"/><circle cx="407.1" cy="101.5" r="1.8"/><circle cx="409.7" cy="101.5" r="1.8"/><circle cx="401" cy="106.7" r="1.8"/><circle cx="410.5" cy="107.2" r="1.8"/><circle cx="389.2" cy="115" r="1.8"/><circle cx="391.8" cy="115" r="1.8"/><circle cx="394.3" cy="113.7" r="1.8"/><circle cx="396.1" cy="112.8" r="1.8"/></g>
<g font-family="Liberation Sans, Arial, sans-serif" font-size="5.2" fill="#3a3a3a" stroke="#3a3a3a" stroke-width="0.1">
<text transform="translate(292 160.3) scale(0.82 1)">22</text>
<text transform="translate(318.6 160.3) scale(0.82 1)">23</text>
<text transform="translate(345.2 160.3) scale(0.82 1)">24</text>
<text transform="translate(371.8 160.3) scale(0.82 1)">25</text>
<text transform="translate(398.4 160.3) scale(0.82 1)">26</text>
<text transform="translate(424.9 160.3) scale(0.82 1)">27</text>
<text transform="translate(451.5 160.3) scale(0.82 1)">28</text>
<text transform="translate(478.1 160.3) scale(0.82 1)">29</text>
<text transform="translate(504.7 160.3) scale(0.82 1)">30</text>
<text transform="translate(511.7 154.9) scale(0.845 1)">0.004</text>
<text transform="translate(511.7 131.9) scale(0.845 1)">0.006</text>
<text transform="translate(511.7 108.8) scale(0.845 1)">0.008</text>
<text transform="translate(511.7 85.8) scale(0.845 1)">0.010</text>
<text transform="translate(511.7 62.8) scale(0.845 1)">0.012</text>
<text transform="translate(511.7 39.7) scale(0.845 1)">0.014</text>
<text transform="translate(511.7 16.7) scale(0.845 1)">0.016</text>
</g>
<rect x="152.5" y="198.5" width="274.3" height="182.4" fill="#fff" stroke="#e5e5e5" stroke-width="0.8"/>
<clipPath id="cpc"><polygon points="220.3,256.7 275.3,256.7 318.3,350.4 263.7,350.4"/></clipPath>
<path d="M193 209V349.2M220.6 209V349.2M248.2 209V349.2M275.9 209V349.2M303.6 209V349.2M331.2 209V349.2M358.9 209V349.2M165.3 325.8H386.5M165.3 302.5H386.5M165.3 279.1H386.5M165.3 255.7H386.5M165.3 232.4H386.5" stroke="#c8c8c8" stroke-width="0.75" fill="none"/>
<g fill="#1b6dc6">
<circle cx="282.3" cy="290.4" r="2.05"/>
<circle cx="282.9" cy="288" r="2.05"/>
<circle cx="268.8" cy="288.2" r="2.05"/>
<circle cx="299.5" cy="268.9" r="2.05"/>
<circle cx="264" cy="301.9" r="2.05"/>
<circle cx="292.5" cy="293" r="2.05"/>
<circle cx="260.1" cy="288.9" r="2.05"/>
<circle cx="269.1" cy="275.7" r="2.05"/>
<circle cx="282.9" cy="284.9" r="2.05"/>
<circle cx="285.7" cy="294.1" r="2.05"/>
<circle cx="292.9" cy="285.7" r="2.05"/>
<circle cx="275.4" cy="275.1" r="2.05"/>
<circle cx="263" cy="300" r="2.05"/>
<circle cx="302.3" cy="282.4" r="2.05"/>
<circle cx="270" cy="306.6" r="2.05"/>
<circle cx="309" cy="282.9" r="2.05"/>
<circle cx="273" cy="268.6" r="2.05"/>
<circle cx="265.4" cy="275.9" r="2.05"/>
<circle cx="262.5" cy="301.4" r="2.05"/>
<circle cx="287.7" cy="285.3" r="2.05"/>
<circle cx="296.5" cy="270.7" r="2.05"/>
<circle cx="265.3" cy="283.9" r="2.05"/>
<circle cx="300" cy="278.6" r="2.05"/>
<circle cx="270.1" cy="282.7" r="2.05"/>
<circle cx="276" cy="278.3" r="2.05"/>
<circle cx="264" cy="291.5" r="2.05"/>
<circle cx="289.8" cy="281.7" r="2.05"/>
<circle cx="308" cy="286.9" r="2.05"/>
<circle cx="303.3" cy="273" r="2.05"/>
<circle cx="272" cy="273.3" r="2.05"/>
<circle cx="304" cy="292.5" r="2.05"/>
<circle cx="272.4" cy="302.6" r="2.05"/>
<circle cx="274.3" cy="272.7" r="2.05"/>
<circle cx="302.6" cy="293" r="2.05"/>
<circle cx="305.8" cy="274" r="2.05"/>
<circle cx="273" cy="285.2" r="2.05"/>
<circle cx="268.4" cy="281.6" r="2.05"/>
<circle cx="266" cy="281.3" r="2.05"/>
<circle cx="288.9" cy="271.1" r="2.05"/>
<circle cx="291.6" cy="286.8" r="2.05"/>
<circle cx="263.2" cy="289.7" r="2.05"/>
<circle cx="305.7" cy="280.8" r="2.05"/>
<circle cx="288.4" cy="293.4" r="2.05"/>
<circle cx="279" cy="298.4" r="2.05"/>
<circle cx="281.7" cy="303.2" r="2.05"/>
<circle cx="289.8" cy="286.8" r="2.05"/>
<circle cx="294.7" cy="287.5" r="2.05"/>
<circle cx="305.9" cy="276.3" r="2.05"/>
<circle cx="274.7" cy="295.9" r="2.05"/>
<circle cx="268" cy="306.4" r="2.05"/>
<circle cx="303.9" cy="282.3" r="2.05"/>
<circle cx="275.4" cy="270.9" r="2.05"/>
<circle cx="273.3" cy="274.4" r="2.05"/>
<circle cx="282.3" cy="268" r="2.05"/>
<circle cx="295.2" cy="290.9" r="2.05"/>
<circle cx="266.3" cy="285.6" r="2.05"/>
<circle cx="301.3" cy="275.5" r="2.05"/>
<circle cx="261.7" cy="293.6" r="2.05"/>
<circle cx="269.5" cy="286.5" r="2.05"/>
<circle cx="268.5" cy="277.2" r="2.05"/>
<circle cx="297.7" cy="282.7" r="2.05"/>
<circle cx="278.4" cy="290.8" r="2.05"/>
<circle cx="282.8" cy="294.6" r="2.05"/>
<circle cx="276.3" cy="300.9" r="2.05"/>
<circle cx="266.9" cy="288.4" r="2.05"/>
<circle cx="274.1" cy="298.2" r="2.05"/>
<circle cx="287.7" cy="279" r="2.05"/>
<circle cx="269.9" cy="303.8" r="2.05"/>
<circle cx="286" cy="291" r="2.05"/>
<circle cx="286.5" cy="287.8" r="2.05"/>
<circle cx="279.7" cy="301.5" r="2.05"/>
<circle cx="284.2" cy="296.4" r="2.05"/>
<circle cx="286.7" cy="283.6" r="2.05"/>
<circle cx="305" cy="286.6" r="2.05"/>
<circle cx="269.1" cy="293.1" r="2.05"/>
<circle cx="265.9" cy="300.6" r="2.05"/>
<circle cx="275.7" cy="281" r="2.05"/>
<circle cx="264.7" cy="298.3" r="2.05"/>
<circle cx="285.3" cy="276.1" r="2.05"/>
<circle cx="280.3" cy="289" r="2.05"/>
<circle cx="271.2" cy="298.8" r="2.05"/>
<circle cx="305.1" cy="279.2" r="2.05"/>
<circle cx="304.3" cy="270.8" r="2.05"/>
<circle cx="296.2" cy="276.5" r="2.05"/>
<circle cx="301.5" cy="284.1" r="2.05"/>
<circle cx="294.1" cy="273.3" r="2.05"/>
<circle cx="266.8" cy="273.1" r="2.05"/>
<circle cx="306.3" cy="268.9" r="2.05"/>
<circle cx="275.9" cy="286.1" r="2.05"/>
<circle cx="281.2" cy="292.3" r="2.05"/>
<circle cx="279.9" cy="273.6" r="2.05"/>
<circle cx="300.1" cy="276.5" r="2.05"/>
<circle cx="277.4" cy="294.1" r="2.05"/>
<circle cx="272.4" cy="283.1" r="2.05"/>
<circle cx="272.1" cy="306.4" r="2.05"/>
<circle cx="261.6" cy="307.5" r="2.05"/>
<circle cx="283.2" cy="272.4" r="2.05"/>
<circle cx="277.9" cy="277.8" r="2.05"/>
<circle cx="267.3" cy="299.4" r="2.05"/>
<circle cx="263.2" cy="306.4" r="2.05"/>
<circle cx="271.7" cy="288.7" r="2.05"/>
<circle cx="295.9" cy="286.2" r="2.05"/>
<circle cx="300.7" cy="292.5" r="2.05"/>
<circle cx="272.6" cy="291.5" r="2.05"/>
<circle cx="298.8" cy="289" r="2.05"/>
<circle cx="299.1" cy="293.4" r="2.05"/>
<circle cx="273.1" cy="296.2" r="2.05"/>
<circle cx="264.6" cy="289.5" r="2.05"/>
<circle cx="263.8" cy="295.8" r="2.05"/>
<circle cx="291.4" cy="281.8" r="2.05"/>
<circle cx="270.1" cy="280.4" r="2.05"/>
<circle cx="301.9" cy="268" r="2.05"/>
<circle cx="270.2" cy="284.2" r="2.05"/>
<circle cx="300.4" cy="281.6" r="2.05"/>
<circle cx="281.1" cy="281.6" r="2.05"/>
<circle cx="303.7" cy="268.2" r="2.05"/>
<circle cx="287.9" cy="287" r="2.05"/>
<circle cx="274.6" cy="300.4" r="2.05"/>
<circle cx="270.2" cy="295.1" r="2.05"/>
<circle cx="273.8" cy="271.2" r="2.05"/>
<circle cx="296.2" cy="281.5" r="2.05"/>
<circle cx="281.6" cy="301.6" r="2.05"/>
<circle cx="275.5" cy="283" r="2.05"/>
<circle cx="277.9" cy="281.3" r="2.05"/>
<circle cx="287.9" cy="272.7" r="2.05"/>
<circle cx="304" cy="277.6" r="2.05"/>
<circle cx="285.5" cy="289.7" r="2.05"/>
<circle cx="263.7" cy="293.9" r="2.05"/>
<circle cx="297.2" cy="294.5" r="2.05"/>
<circle cx="305.7" cy="283.5" r="2.05"/>
<circle cx="291.8" cy="288.7" r="2.05"/>
<circle cx="300" cy="284.1" r="2.05"/>
<circle cx="278.4" cy="272.3" r="2.05"/>
<circle cx="280.9" cy="278.1" r="2.05"/>
<circle cx="262.4" cy="278.8" r="2.05"/>
<circle cx="297.7" cy="279" r="2.05"/>
<circle cx="300.7" cy="286.7" r="2.05"/>
<circle cx="276.7" cy="289.8" r="2.05"/>
<circle cx="283.8" cy="274.8" r="2.05"/>
<circle cx="292.7" cy="275.5" r="2.05"/>
<circle cx="283.3" cy="281.7" r="2.05"/>
<circle cx="295.5" cy="292.6" r="2.05"/>
<circle cx="267.3" cy="279.4" r="2.05"/>
<circle cx="303.4" cy="288.4" r="2.05"/>
<circle cx="270" cy="289.6" r="2.05"/>
<circle cx="267.3" cy="303" r="2.05"/>
<circle cx="275.1" cy="268.1" r="2.05"/>
<circle cx="283" cy="297.5" r="2.05"/>
<circle cx="294.1" cy="269.4" r="2.05"/>
<circle cx="301.3" cy="294.8" r="2.05"/>
<circle cx="268.5" cy="283.1" r="2.05"/>
<circle cx="289.4" cy="268.7" r="2.05"/>
<circle cx="279.7" cy="296.8" r="2.05"/>
<circle cx="260.3" cy="279.9" r="2.05"/>
<circle cx="292.3" cy="269.4" r="2.05"/>
<circle cx="287.1" cy="280.8" r="2.05"/>
<circle cx="266.5" cy="297.5" r="2.05"/>
<circle cx="269.4" cy="308.2" r="2.05"/>
<circle cx="266.2" cy="306.3" r="2.05"/>
<circle cx="287.8" cy="290.4" r="2.05"/>
<circle cx="292.7" cy="278.8" r="2.05"/>
<circle cx="297.5" cy="287" r="2.05"/>
<circle cx="280.1" cy="284.6" r="2.05"/>
<circle cx="305.2" cy="288.8" r="2.05"/>
<circle cx="274.8" cy="292" r="2.05"/>
<circle cx="297.2" cy="290.7" r="2.05"/>
<circle cx="274.6" cy="279.6" r="2.05"/>
<circle cx="279.5" cy="281" r="2.05"/>
<circle cx="269.1" cy="305.1" r="2.05"/>
<circle cx="306.8" cy="285.2" r="2.05"/>
<circle cx="270.7" cy="278.8" r="2.05"/>
<circle cx="269.4" cy="272.9" r="2.05"/>
<circle cx="289.2" cy="275.1" r="2.05"/>
<circle cx="306.3" cy="295.4" r="2.05"/>
<circle cx="273.6" cy="289.8" r="2.05"/>
<circle cx="284.6" cy="272.9" r="2.05"/>
<circle cx="268.2" cy="300.6" r="2.05"/>
<circle cx="270.6" cy="291.4" r="2.05"/>
<circle cx="268.5" cy="271.6" r="2.05"/>
<circle cx="284.5" cy="284.7" r="2.05"/>
<circle cx="305.3" cy="290.8" r="2.05"/>
<circle cx="300.9" cy="272.5" r="2.05"/>
<circle cx="267.4" cy="296.4" r="2.05"/>
<circle cx="277.8" cy="274.5" r="2.05"/>
<circle cx="282.4" cy="299" r="2.05"/>
<circle cx="279.3" cy="278.4" r="2.05"/>
<circle cx="287.3" cy="275.7" r="2.05"/>
<circle cx="309.1" cy="292.8" r="2.05"/>
<circle cx="279.8" cy="294.6" r="2.05"/>
<circle cx="276.8" cy="296.6" r="2.05"/>
<circle cx="277" cy="273.1" r="2.05"/>
<circle cx="283" cy="278.8" r="2.05"/>
<circle cx="273" cy="281.2" r="2.05"/>
<circle cx="279.4" cy="275.5" r="2.05"/>
<circle cx="267" cy="292.1" r="2.05"/>
<circle cx="271.3" cy="293.8" r="2.05"/>
<circle cx="278.8" cy="279.7" r="2.05"/>
<circle cx="271.5" cy="268.8" r="2.05"/>
<circle cx="280.8" cy="271.6" r="2.05"/>
<circle cx="260.5" cy="282.6" r="2.05"/>
<circle cx="262.6" cy="283.2" r="2.05"/>
<circle cx="284.4" cy="291.7" r="2.05"/>
<circle cx="283.1" cy="293" r="2.05"/>
<circle cx="285.1" cy="278.8" r="2.05"/>
<circle cx="308.9" cy="271.5" r="2.05"/>
<circle cx="308.5" cy="280" r="2.05"/>
<circle cx="297.3" cy="289.2" r="2.05"/>
<circle cx="272" cy="279.6" r="2.05"/>
<circle cx="285.4" cy="270.4" r="2.05"/>
<circle cx="262.2" cy="276.3" r="2.05"/>
<circle cx="272.1" cy="297.6" r="2.05"/>
<circle cx="301.3" cy="290.7" r="2.05"/>
<circle cx="299.9" cy="270.4" r="2.05"/>
<circle cx="294.2" cy="283.9" r="2.05"/>
<circle cx="265.5" cy="279.8" r="2.05"/>
<circle cx="264.8" cy="307.7" r="2.05"/>
<circle cx="260.4" cy="290.6" r="2.05"/>
<circle cx="291.1" cy="277.3" r="2.05"/>
<circle cx="263.2" cy="281.1" r="2.05"/>
<circle cx="275.1" cy="288.3" r="2.05"/>
<circle cx="297" cy="274.3" r="2.05"/>
<circle cx="287" cy="296" r="2.05"/>
<circle cx="277.1" cy="284.5" r="2.05"/>
<circle cx="284.9" cy="283.2" r="2.05"/>
<circle cx="266.9" cy="293.9" r="2.05"/>
<circle cx="265.2" cy="303.2" r="2.05"/>
<circle cx="288.4" cy="288.3" r="2.05"/>
<circle cx="291.2" cy="285.2" r="2.05"/>
<circle cx="262.7" cy="304.7" r="2.05"/>
<circle cx="263.1" cy="310.1" r="2.05"/>
<circle cx="288.7" cy="277.8" r="2.05"/>
<circle cx="273.9" cy="304" r="2.05"/>
<circle cx="276.7" cy="302.4" r="2.05"/>
<circle cx="289.3" cy="289.7" r="2.05"/>
<circle cx="277.7" cy="286.1" r="2.05"/>
<circle cx="262.8" cy="285.9" r="2.05"/>
<circle cx="308.5" cy="288.8" r="2.05"/>
<circle cx="295.4" cy="271.8" r="2.05"/>
<circle cx="277.9" cy="292.2" r="2.05"/>
<circle cx="291" cy="290" r="2.05"/>
<circle cx="324.6" cy="285.9" r="2.05"/>
<circle cx="324.2" cy="282.2" r="2.05"/>
<circle cx="311.4" cy="290.5" r="2.05"/>
<circle cx="318.4" cy="275.4" r="2.05"/>
<circle cx="324.2" cy="274.3" r="2.05"/>
<circle cx="312.2" cy="275.4" r="2.05"/>
<circle cx="314.1" cy="282.1" r="2.05"/>
<circle cx="318.3" cy="281.3" r="2.05"/>
<circle cx="327.9" cy="283.9" r="2.05"/>
<circle cx="317.5" cy="290.4" r="2.05"/>
<circle cx="316.7" cy="286.2" r="2.05"/>
<circle cx="314.5" cy="278.7" r="2.05"/>
<circle cx="321.1" cy="278.6" r="2.05"/>
<circle cx="321" cy="285.3" r="2.05"/>
<circle cx="312.9" cy="294.4" r="2.05"/>
<circle cx="321.8" cy="275.4" r="2.05"/>
<circle cx="323.9" cy="279.3" r="2.05"/>
<circle cx="310.4" cy="285" r="2.05"/>
<circle cx="328.1" cy="281" r="2.05"/>
<circle cx="328.2" cy="287.7" r="2.05"/>
<circle cx="327.4" cy="275" r="2.05"/>
<circle cx="323.2" cy="292.2" r="2.05"/>
<circle cx="318" cy="295.3" r="2.05"/>
<circle cx="314.3" cy="290.9" r="2.05"/>
<circle cx="310.3" cy="279.6" r="2.05"/>
<circle cx="326.1" cy="290.9" r="2.05"/>
<circle cx="262" cy="280.3" r="2.05"/>
<circle cx="261.5" cy="283.4" r="2.05"/>
<circle cx="262" cy="286.4" r="2.05"/>
<circle cx="261.5" cy="289.2" r="2.05"/>
<circle cx="261.9" cy="292.5" r="2.05"/>
<circle cx="261.4" cy="295.2" r="2.05"/>
<circle cx="261.2" cy="298.9" r="2.05"/>
<circle cx="261.9" cy="302.1" r="2.05"/>
<circle cx="262" cy="304.8" r="2.05"/>
<circle cx="261.9" cy="307.9" r="2.05"/>
<circle cx="264.3" cy="277.6" r="2.05"/>
<circle cx="263.4" cy="280.6" r="2.05"/>
<circle cx="263.6" cy="283.1" r="2.05"/>
<circle cx="264.4" cy="285.9" r="2.05"/>
<circle cx="263.9" cy="289.3" r="2.05"/>
<circle cx="264.2" cy="292.6" r="2.05"/>
<circle cx="264.4" cy="295.9" r="2.05"/>
<circle cx="264" cy="298.1" r="2.05"/>
<circle cx="264.1" cy="301.2" r="2.05"/>
<circle cx="264.5" cy="305" r="2.05"/>
<circle cx="263.6" cy="307.4" r="2.05"/>
<circle cx="369.9" cy="273.1" r="2.05"/>
<circle cx="349" cy="266.9" r="2.05"/>
<circle cx="350.9" cy="268.7" r="2.05"/>
<circle cx="352.1" cy="273.1" r="2.05"/>
<circle cx="349.5" cy="277.7" r="2.05"/>
<circle cx="354.3" cy="280.2" r="2.05"/>
<circle cx="359.2" cy="280.3" r="2.05"/>
<circle cx="349.5" cy="286.5" r="2.05"/>
<circle cx="344.5" cy="280.2" r="2.05"/>
<circle cx="341.6" cy="275.7" r="2.05"/>
<circle cx="340.6" cy="286.5" r="2.05"/>
<circle cx="338.2" cy="280.3" r="2.05"/>
<circle cx="333.7" cy="289.1" r="2.05"/>
<circle cx="329.8" cy="276.3" r="2.05"/>
<circle cx="331.5" cy="276.3" r="2.05"/>
<circle cx="327.1" cy="273.6" r="2.05"/>
<circle cx="328.9" cy="273.6" r="2.05"/>
<circle cx="331" cy="273.6" r="2.05"/>
<circle cx="333.2" cy="273.6" r="2.05"/>
<circle cx="335.4" cy="273.6" r="2.05"/>
<circle cx="336.6" cy="273.6" r="2.05"/>
<circle cx="319.9" cy="268.9" r="2.05"/>
<circle cx="312.2" cy="265" r="2.05"/>
<circle cx="305.4" cy="265" r="2.05"/>
<circle cx="321" cy="273.6" r="2.05"/>
<circle cx="308.9" cy="304.4" r="2.05"/>
<circle cx="315.9" cy="294.8" r="2.05"/>
<circle cx="312.6" cy="295.2" r="2.05"/>
<circle cx="308.2" cy="295.2" r="2.05"/>
<circle cx="317" cy="295.8" r="2.05"/>
<circle cx="324.9" cy="286.9" r="2.05"/>
<circle cx="326.5" cy="286.9" r="2.05"/>
<circle cx="323.7" cy="290.2" r="2.05"/>
<circle cx="326" cy="290.7" r="2.05"/>
<circle cx="284.5" cy="311" r="2.05"/>
<circle cx="291.5" cy="308.4" r="2.05"/>
<circle cx="281.6" cy="303.7" r="2.05"/>
<circle cx="279.4" cy="306.7" r="2.05"/>
<circle cx="276" cy="304.4" r="2.05"/>
<circle cx="284.5" cy="264.3" r="2.05"/>
<circle cx="288.2" cy="266.5" r="2.05"/>
<circle cx="302.9" cy="264.6" r="2.05"/>
<circle cx="264" cy="273.8" r="2.05"/>
<circle cx="267.6" cy="273.1" r="2.05"/>
<circle cx="270.6" cy="269.3" r="2.05"/>
<circle cx="275.7" cy="267.2" r="2.05"/>
<circle cx="297" cy="302.3" r="2.05"/>
<circle cx="293.7" cy="299.6" r="2.05"/>
<circle cx="301.4" cy="296.4" r="2.05"/>
</g>
<g fill="#f9ab72"><circle cx="285" cy="275.7" r="1.8"/><circle cx="297.2" cy="271.3" r="1.8"/><circle cx="296.5" cy="277.8" r="1.8"/><circle cx="299.5" cy="277.6" r="1.8"/><circle cx="292.9" cy="283.6" r="1.8"/><circle cx="289.3" cy="286.5" r="1.8"/><circle cx="290.7" cy="288.6" r="1.8"/><circle cx="301.6" cy="282.1" r="1.8"/><circle cx="302.3" cy="286.5" r="1.8"/><circle cx="303.8" cy="286.7" r="1.8"/><circle cx="305.6" cy="269.3" r="1.8"/><circle cx="303.8" cy="280.6" r="1.8"/><circle cx="305.6" cy="282.3" r="1.8"/><circle cx="328.2" cy="275.7" r="1.8"/><circle cx="332.6" cy="275.7" r="1.8"/><circle cx="267" cy="286.5" r="1.8"/><circle cx="277.8" cy="286.7" r="1.8"/><circle cx="280.7" cy="280" r="1.8"/><circle cx="282.8" cy="289.3" r="1.8"/><circle cx="280.7" cy="291.5" r="1.8"/><circle cx="262.6" cy="290.8" r="1.8"/><circle cx="264.8" cy="291.5" r="1.8"/><circle cx="268.4" cy="291.5" r="1.8"/><circle cx="271.3" cy="292.2" r="1.8"/><circle cx="274.9" cy="292.9" r="1.8"/><circle cx="277.1" cy="294" r="1.8"/><circle cx="282.1" cy="295.1" r="1.8"/><circle cx="261.2" cy="295.1" r="1.8"/><circle cx="267" cy="298" r="1.8"/><circle cx="273.5" cy="302.3" r="1.8"/><circle cx="266.2" cy="304.5" r="1.8"/><circle cx="272.7" cy="308.8" r="1.8"/><circle cx="285" cy="311" r="1.8"/><circle cx="292.2" cy="295.1" r="1.8"/></g>
<path d="M248.2 349.2L386.5 301.8M293.6 349.2L386.5 254.8" stroke="#a9d491" stroke-width="0.65" fill="none"/>
<rect x="165.3" y="209" width="221.2" height="140.2" fill="none" stroke="#838383" stroke-width="1"/>
<polygon points="220.3,256.7 275.3,256.7 318.3,350.4 263.7,350.4" fill="#d4e6f7" fill-opacity="0.61"/>
<g fill="#fbd6b9" clip-path="url(#cpc)"><circle cx="285" cy="275.7" r="1.8"/><circle cx="297.2" cy="271.3" r="1.8"/><circle cx="296.5" cy="277.8" r="1.8"/><circle cx="299.5" cy="277.6" r="1.8"/><circle cx="292.9" cy="283.6" r="1.8"/><circle cx="289.3" cy="286.5" r="1.8"/><circle cx="290.7" cy="288.6" r="1.8"/><circle cx="267" cy="286.5" r="1.8"/><circle cx="277.8" cy="286.7" r="1.8"/><circle cx="280.7" cy="280" r="1.8"/><circle cx="282.8" cy="289.3" r="1.8"/><circle cx="280.7" cy="291.5" r="1.8"/><circle cx="262.6" cy="290.8" r="1.8"/><circle cx="264.8" cy="291.5" r="1.8"/><circle cx="268.4" cy="291.5" r="1.8"/><circle cx="271.3" cy="292.2" r="1.8"/><circle cx="274.9" cy="292.9" r="1.8"/><circle cx="277.1" cy="294" r="1.8"/><circle cx="282.1" cy="295.1" r="1.8"/><circle cx="261.2" cy="295.1" r="1.8"/><circle cx="267" cy="298" r="1.8"/><circle cx="273.5" cy="302.3" r="1.8"/><circle cx="266.2" cy="304.5" r="1.8"/><circle cx="272.7" cy="308.8" r="1.8"/><circle cx="285" cy="311" r="1.8"/><circle cx="292.2" cy="295.1" r="1.8"/></g>
<g font-family="Liberation Sans, Arial, sans-serif" font-size="5.2" fill="#3a3a3a" stroke="#3a3a3a" stroke-width="0.1">
<text transform="translate(162.4 356.5) scale(0.82 1)">22</text>
<text transform="translate(190.1 356.5) scale(0.82 1)">23</text>
<text transform="translate(217.7 356.5) scale(0.82 1)">24</text>
<text transform="translate(245.3 356.5) scale(0.82 1)">25</text>
<text transform="translate(273 356.5) scale(0.82 1)">26</text>
<text transform="translate(300.7 356.5) scale(0.82 1)">27</text>
<text transform="translate(328.3 356.5) scale(0.82 1)">28</text>
<text transform="translate(356 356.5) scale(0.82 1)">29</text>
<text transform="translate(383.6 356.5) scale(0.82 1)">30</text>
<text transform="translate(390.6 351.1) scale(0.896 1)">0.004</text>
<text transform="translate(390.6 327.7) scale(0.896 1)">0.006</text>
<text transform="translate(390.6 304.4) scale(0.896 1)">0.008</text>
<text transform="translate(390.6 281) scale(0.896 1)">0.010</text>
<text transform="translate(390.6 257.6) scale(0.896 1)">0.012</text>
<text transform="translate(390.6 234.3) scale(0.896 1)">0.014</text>
<text transform="translate(390.6 210.9) scale(0.896 1)">0.016</text>
</g>
<text x="43.4" y="26" font-size="9" font-family="Liberation Serif, Times New Roman, serif" fill="#111" font-weight="bold" textLength="63.2" lengthAdjust="spacingAndGlyphs" xml:space="preserve">Occupancy: high</text>
<text x="43.4" y="36.2" font-size="9" font-family="Liberation Serif, Times New Roman, serif" fill="#111" font-weight="bold" textLength="80.6" lengthAdjust="spacingAndGlyphs" xml:space="preserve">Solar irradiation: low</text>
<text x="85" y="172.6" font-size="10.5" font-family="Liberation Serif, Times New Roman, serif" fill="#111" font-weight="bold" textLength="121.5" lengthAdjust="spacingAndGlyphs" xml:space="preserve">Operative temperature (°C)</text>
<text x="-44" y="0" font-size="8.9" font-family="Liberation Serif, Times New Roman, serif" fill="#111" font-weight="bold" textLength="88.1" lengthAdjust="spacingAndGlyphs" transform="translate(262 91.5) rotate(-90)" xml:space="preserve">Humidity ratio (kg/kg')</text>
<text x="49.6" y="195.6" font-size="11.8" font-family="Liberation Serif, Times New Roman, serif" fill="#222" textLength="184.2" lengthAdjust="spacingAndGlyphs" xml:space="preserve">(a) Thermal comfort analysis of situation 1</text>
<text x="318.9" y="26.4" font-size="8.7" font-family="Liberation Serif, Times New Roman, serif" fill="#111" font-weight="bold" textLength="58.6" lengthAdjust="spacingAndGlyphs" xml:space="preserve">Occupancy:  low</text>
<text x="318.9" y="36.7" font-size="8.7" font-family="Liberation Serif, Times New Roman, serif" fill="#111" font-weight="bold" textLength="83.1" lengthAdjust="spacingAndGlyphs" xml:space="preserve">Solar irradiation:  high</text>
<text x="360" y="173.2" font-size="10.5" font-family="Liberation Serif, Times New Roman, serif" fill="#111" font-weight="bold" textLength="121.1" lengthAdjust="spacingAndGlyphs" xml:space="preserve">Operative temperature (°C)</text>
<text x="-43.2" y="0" font-size="8.9" font-family="Liberation Serif, Times New Roman, serif" fill="#111" font-weight="bold" textLength="86.4" lengthAdjust="spacingAndGlyphs" transform="translate(536.6 92.5) rotate(-90)" xml:space="preserve">Humidity  ratio (kg/kg')</text>
<text x="306.7" y="195.5" font-size="11.8" font-family="Liberation Serif, Times New Roman, serif" fill="#222" textLength="184.9" lengthAdjust="spacingAndGlyphs" xml:space="preserve">(b) Thermal comfort analysis of situation 2</text>
<text x="190.9" y="220.5" font-size="8.8" font-family="Liberation Serif, Times New Roman, serif" fill="#111" font-weight="bold" textLength="90.7" lengthAdjust="spacingAndGlyphs" xml:space="preserve">Relative humidity:  high</text>
<text x="190.9" y="230.3" font-size="8.8" font-family="Liberation Serif, Times New Roman, serif" fill="#111" font-weight="bold" textLength="86.7" lengthAdjust="spacingAndGlyphs" xml:space="preserve">Solar irradiation:  high</text>
<text x="233.1" y="369.5" font-size="10.7" font-family="Liberation Serif, Times New Roman, serif" fill="#111" font-weight="bold" textLength="127" lengthAdjust="spacingAndGlyphs" xml:space="preserve">Operative temperature (°C)</text>
<text x="-44" y="0" font-size="8.9" font-family="Liberation Serif, Times New Roman, serif" fill="#111" font-weight="bold" textLength="88" lengthAdjust="spacingAndGlyphs" transform="translate(417.6 287.5) rotate(-90)" xml:space="preserve">Humidity  ratio (kg/kg')</text>
<text x="190" y="394.1" font-size="11.8" font-family="Liberation Serif, Times New Roman, serif" fill="#222" textLength="185.8" lengthAdjust="spacingAndGlyphs" xml:space="preserve">(c) Thermal comfort analysis of situation 3</text>
</svg>
</body></html>
